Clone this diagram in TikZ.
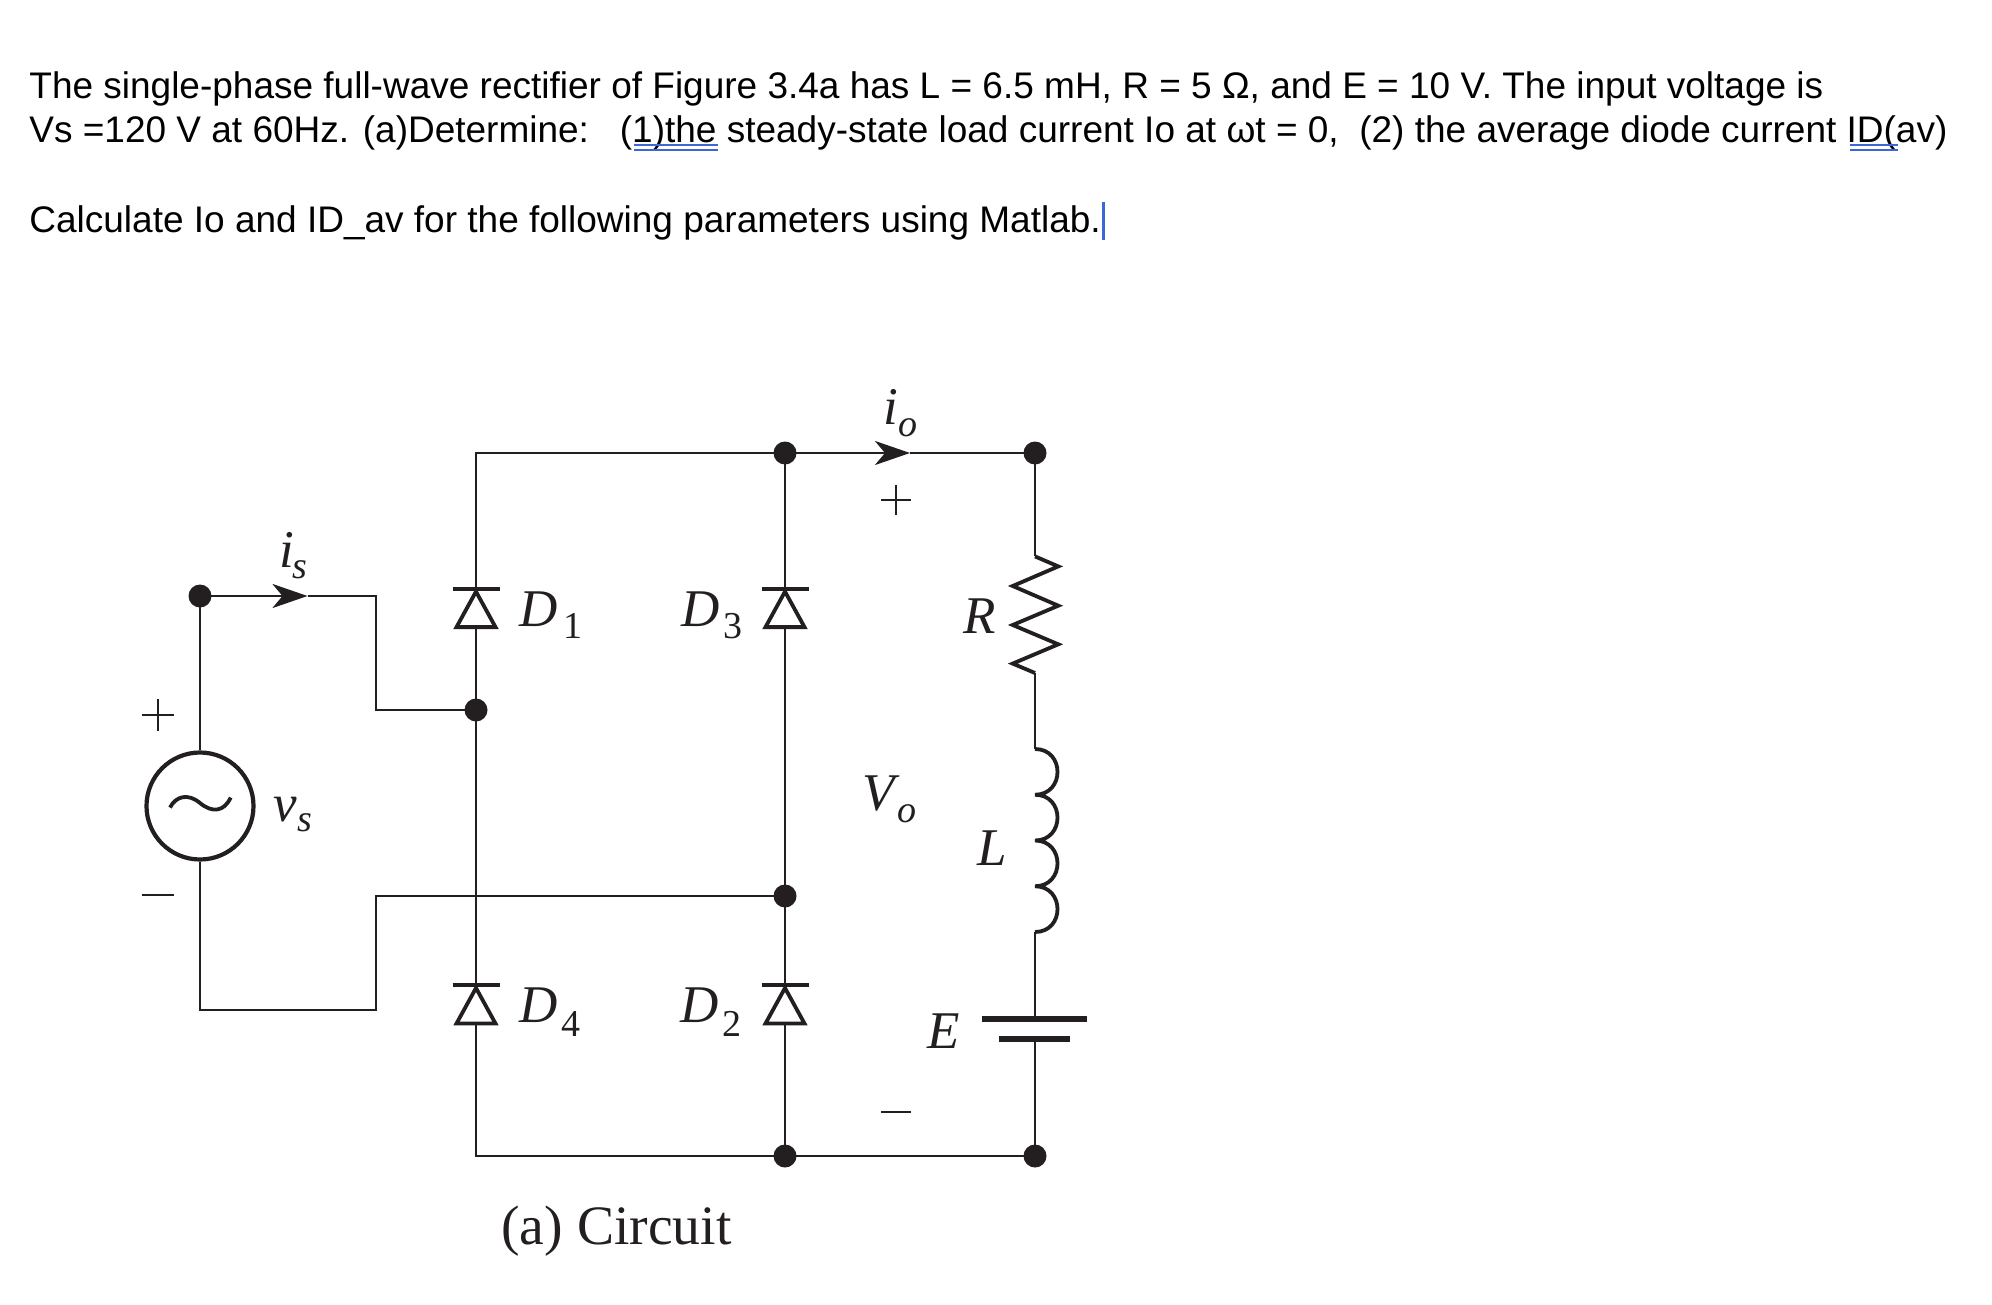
\documentclass[tikz,border=0pt]{standalone}
\usepackage{fontspec}
\usetikzlibrary{arrows.meta}
\setmainfont{Liberation Sans}
\newfontfamily\serfont{Liberation Serif}
\definecolor{ink}{HTML}{231F20}
\definecolor{markblue}{HTML}{3F66D8}
\newcommand{\sublab}[4]{{\serfont\itshape\fontsize{26.5pt}{30pt}\selectfont #1\kern #3\raisebox{#4}{\fontsize{19pt}{22pt}\selectfont #2}}}
\newcommand{\sublabd}[4]{{\serfont\fontsize{19pt}{22pt}\selectfont\itshape\fontsize{26.5pt}{30pt}\selectfont #1\kern #3\raisebox{#4}{\upshape\fontsize{19pt}{22pt}\selectfont #2}}}
\tikzset{
  wire/.style={draw=ink,line width=1.47pt},
  dot/.style={circle,fill=ink,inner sep=0pt,minimum size=11.5pt},
  prompt/.style={anchor=base west,inner sep=0pt,font=\fontsize{18.5pt}{22pt}\selectfont,text=black},
  lab/.style={anchor=base west,inner sep=0pt,text=ink},
  mk/.style={draw=ink,line width=0.8pt},
  spell/.style={draw=markblue,line width=1.3pt},
  tiparrow/.style={-{Stealth[length=17.5pt,width=12pt,inset=5pt]}},
  diode/.pic={
    \draw[draw=ink,fill=white,line width=1.9pt,miter limit=10] (-19.5,38.5) -- (0,3) -- (19.5,38.5) -- cycle;
    \draw[draw=ink,line width=2.1pt] (-23.5,0) -- (23.5,0);
  }
}
\begin{document}
\begin{tikzpicture}[x=0.5pt,y=-0.5pt]
\useasboundingbox[fill=white] (0,0) rectangle (1992,1305);

% prompt text
\node[prompt] (l1) at (29,98.5) {The single-phase full-wave rectifier of Figure 3.4a has L = 6.5 mH, R = 5 Ω, and E = 10 V. The input voltage is};
\node[prompt] (l2) at (29,142.5) {Vs =120 V at 60Hz. (a)Determine:\ \ \ (1)the steady-state load current Io at ωt = 0,\ \ (2) the average diode current ID(av)};
\node[prompt] (l3) at (29,232.5) {Calculate Io and ID\_av for the following parameters using Matlab.};
\draw[spell] (634,145) -- (718,145) (634,150) -- (718,150);
\draw[spell] (1850,145) -- (1898,145) (1850,150) -- (1898,150);
\draw[draw=markblue,line width=1.5pt] (1103,202) -- (1103,240);

% junctions
\node[dot] (s)  at (200,596) {};
\node[dot] (a)  at (476,710) {};
\node[dot] (t3) at (785,453) {};
\node[dot] (tr) at (1035,453) {};
\node[dot] (b)  at (785,896) {};
\node[dot] (b3) at (785,1156) {};
\node[dot] (br) at (1035,1156) {};

\coordinate (tl) at (476,453);
\coordinate (bl) at (476,1156);
\coordinate (s1) at (376,596);
\coordinate (s2) at (376,710);
\coordinate (c1) at (376,896);
\coordinate (c2) at (376,1010);
\coordinate (c3) at (200,1010);
\coordinate (isT) at (307.5,596);
\coordinate (ioT) at (910,453);

% source
\node[circle,draw=ink,line width=2.1pt,inner sep=0pt,minimum size=53.5pt] (src) at (200,806) {};
\draw[draw=ink,line width=1.9pt] (170,807.5) .. controls (176,796) and (188,793) .. (200,803) .. controls (212,813) and (224,812) .. (230.7,797.5);

% wires
\draw[wire] (s.center) -- (src.north);
\draw[wire] (src.south) -- (c3) -- (c2) -- (c1) -- (b.center);
\draw[wire,tiparrow] (s.center) -- (isT);
\draw[wire] (isT) -- (s1) -- (s2) -- (a.center);
\draw[wire] (a.center) |- (tl) -- (t3.center);
\draw[wire] (a.center) -- (bl) -- (b3.center) -- (br.center);
\draw[wire] (t3.center) -- (b3.center);
\draw[wire,tiparrow] (t3.center) -- (ioT);
\draw[wire] (ioT) -- (tr.center);

% load
\coordinate (r0) at (1035,556.4);
\coordinate (r1) at (1035,673);
\coordinate (l0) at (1035,749);
\coordinate (l4) at (1035,932);
\coordinate (e0) at (1035,1019);
\coordinate (e1) at (1035,1039);
\draw[wire] (tr.center) -- (r0);
\draw[draw=ink,line width=1.9pt,miter limit=10] (r0) -- (1058.3,566.4) -- (1012.7,586) -- (1058.3,605.7) -- (1012.7,625) -- (1058.3,644.3) -- (1012.7,663.6) -- (r1);
\draw[wire] (r1) -- (l0);
\draw[draw=ink,line width=1.9pt] (l0) .. controls (1065,749) and (1065,794.75) .. (1035,794.75)
  .. controls (1065,794.75) and (1065,840.5) .. (1035,840.5)
  .. controls (1065,840.5) and (1065,886.25) .. (1035,886.25)
  .. controls (1065,886.25) and (1065,932) .. (l4);
\draw[wire] (l4) -- (e0);
\draw[wire] (e1) -- (br.center);
\draw[draw=ink,line width=2.6pt] (981.6,1019) -- (1087,1019);
\draw[draw=ink,line width=2.6pt] (999,1039) -- (1070,1039);

% diodes
\pic at (476,588.6) {diode};
\pic at (785,588.6) {diode};
\pic at (476,985) {diode};
\pic at (785,985) {diode};

% polarity marks
\draw[mk] (142,715) -- (174,715) (158,699) -- (158,731);
\draw[mk] (142,895) -- (174,895);
\draw[mk] (881,500) -- (911,500) (896,485) -- (896,515);
\draw[mk] (881,1112) -- (911,1112);

% labels
\node[lab] (lis) at (279,567) {\sublab{i}{s}{-1pt}{-5.5pt}};
\node[lab] (lio) at (883,424) {\sublab{i}{o}{0pt}{-6pt}};
\node[lab] (lvs) at (273,821) {\sublab{v}{s}{0.5pt}{-5pt}};
\node[lab] (lvo) at (862,810) {\sublab{V}{o}{1.5pt}{-6pt}};
\node[lab] (ld1) at (519,626.4) {\sublabd{D}{1}{3pt}{-6pt}};
\node[lab] (ld3) at (681,626) {\sublabd{D}{3}{2pt}{-6pt}};
\node[lab] (ld4) at (519,1022) {\sublabd{D}{4}{2pt}{-7pt}};
\node[lab] (ld2) at (680,1022) {\sublabd{D}{2}{2pt}{-7pt}};
\node[lab] (lr) at (963,633.6) {\sublab{R}{}{0pt}{0pt}};
\node[lab] (ll) at (977,865) {\sublab{L}{}{0pt}{0pt}};
\node[lab] (le) at (927,1048) {\sublab{E}{}{0pt}{0pt}};
\node[lab,font=\serfont\fontsize{27.8pt}{32pt}\selectfont] (cap) at (501,1244) {(a) Circuit};
\end{tikzpicture}
\end{document}
